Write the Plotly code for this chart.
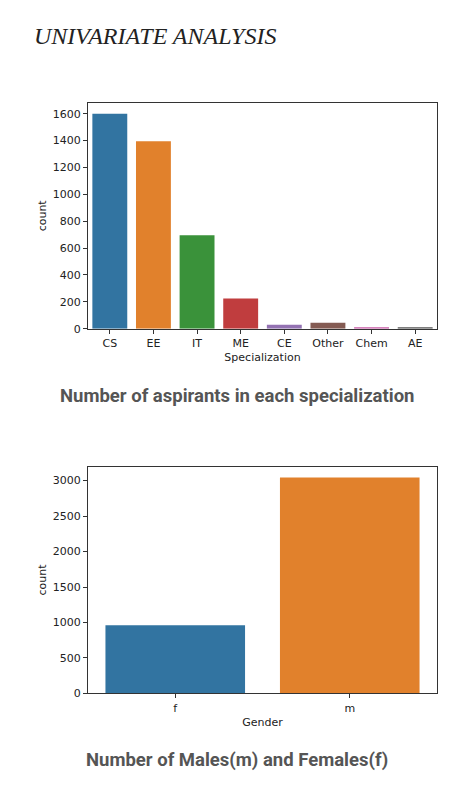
import plotly.graph_objects as go

# data
spec_labels = ["CS", "EE", "IT", "ME", "CE", "Other", "Chem", "AE"]
spec_counts = [1600, 1395, 695, 225, 30, 45, 8, 8]
spec_colors = ["#3274a1", "#e1812c", "#3a923a", "#c03d3e",
               "#9372b2", "#845b53", "#d684bd", "#7f7f7f"]

gender_labels = ["f", "m"]
gender_counts = [960, 3045]
gender_colors = ["#3274a1", "#e1812c"]

W, H = 474, 800


def py(px):
    # pixel row -> paper coordinate (small stretch to line up with the screenshot)
    return 1 - px * 1.008 / H


fig = go.Figure()
fig.add_trace(go.Bar(x=spec_labels, y=spec_counts, marker_color=spec_colors,
                     marker_line_width=0, width=0.8, xaxis="x", yaxis="y"))
fig.add_trace(go.Bar(x=gender_labels, y=gender_counts, marker_color=gender_colors,
                     marker_line_width=0, width=0.8, xaxis="x2", yaxis="y2"))

axis_common = dict(showline=True, mirror=True, linecolor="#333", linewidth=1,
                   ticks="outside", ticklen=4, tickcolor="#333",
                   showgrid=False, zeroline=False,
                   tickfont=dict(family="DejaVu Sans", size=11, color="#222"))
title_font = dict(family="DejaVu Sans", size=11, color="#222")

fig.update_layout(
    width=W, height=H,
    margin=dict(l=0, r=0, t=0, b=0),
    paper_bgcolor="white", plot_bgcolor="white",
    showlegend=False,
    xaxis=dict(domain=[88 / W, 437 / W], anchor="y", range=[-0.5, 7.5],
               title=dict(text="Specialization", standoff=4, font=title_font),
               **axis_common),
    yaxis=dict(domain=[py(329), py(103)], anchor="x", range=[0, 1680], dtick=200,
               title=dict(text="count", standoff=3, font=title_font),
               **axis_common),
    xaxis2=dict(domain=[88 / W, 437 / W], anchor="y2", range=[-0.5, 1.5],
                title=dict(text="Gender", standoff=4, font=title_font),
                **axis_common),
    yaxis2=dict(domain=[py(694), py(467)], anchor="x2", range=[0, 3197], dtick=500,
                title=dict(text="count", standoff=3, font=title_font),
                **axis_common),
)

fig.add_annotation(text="<i>UNIVARIATE ANALYSIS</i>", xref="paper", yref="paper",
                   x=32 / W, y=py(36), xanchor="left", yanchor="middle", showarrow=False,
                   font=dict(family="Liberation Serif", size=24, color="#222"))
fig.add_annotation(text="<b>Number of aspirants in each specialization</b>",
                   xref="paper", yref="paper", x=0.5, y=py(396),
                   xanchor="center", yanchor="middle", showarrow=False,
                   font=dict(family="Roboto", size=18.5, color="#555"))
fig.add_annotation(text="<b>Number of Males(m) and Females(f)</b>",
                   xref="paper", yref="paper", x=0.5, y=py(761),
                   xanchor="center", yanchor="middle", showarrow=False,
                   font=dict(family="Roboto", size=18.5, color="#555"))

# drop the default page margin so the figure sits at the window origin
fig.write_html("out.html", config={"displayModeBar": False},
               post_script="document.body.style.margin='0';")
